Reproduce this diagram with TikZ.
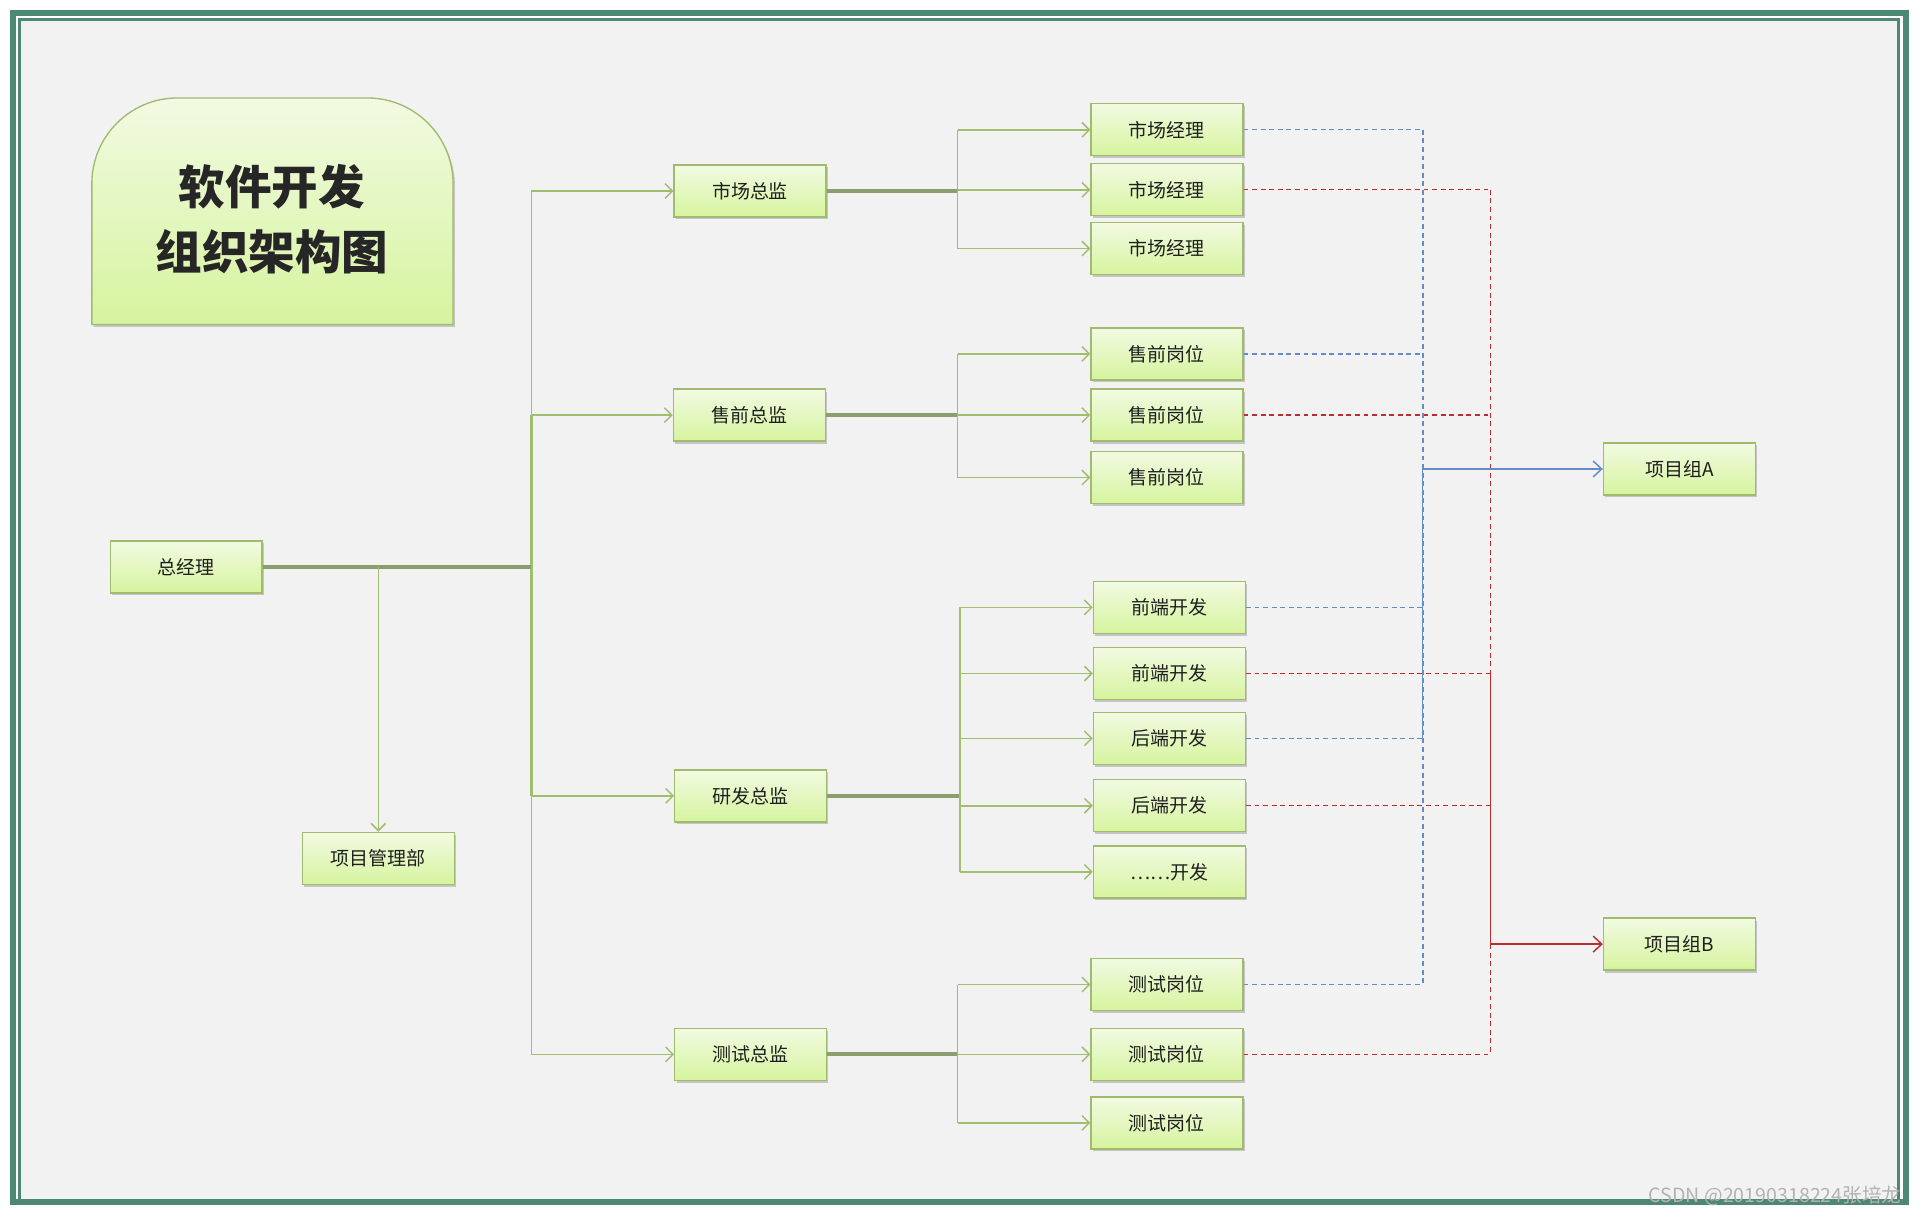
\documentclass[tikz,border=0pt]{standalone}
\usepackage{fontspec}
\setmainfont{Noto Sans CJK SC}
\usetikzlibrary{arrows.meta,shadows}
\definecolor{frameC}{RGB}{76,136,116}
\definecolor{bgC}{RGB}{242,242,242}
\definecolor{boxline}{RGB}{160,186,110}
\definecolor{boxtop}{RGB}{242,250,226}
\definecolor{boxbot}{RGB}{214,244,158}
\definecolor{lineg}{RGB}{160,190,110}
\definecolor{thickg}{RGB}{138,158,110}
\definecolor{blueC}{RGB}{100,140,200}
\definecolor{redC}{RGB}{190,45,45}
\tikzset{
  box/.style={draw=boxline, line width=1.1pt, top color=boxtop, bottom color=boxbot,
    minimum width=124pt, minimum height=42.5pt, inner sep=0pt,
    font=\fontsize{15.5}{18}\selectfont, text=black!88,
    drop shadow={shadow xshift=1.5pt, shadow yshift=-2pt, opacity=0.35, fill=black!55}},
  garrow/.style={draw=lineg, line width=1.3pt, -{Straight Barb[length=6pt,width=12pt,line width=1.2pt]}},
  gline/.style={draw=lineg, line width=1.3pt},
  gthick/.style={draw=thickg, line width=3.5pt},
  bdash/.style={draw=blueC, line width=1.1pt, dash pattern=on 4pt off 3pt},
  rdash/.style={draw=redC, line width=1.1pt, dash pattern=on 4pt off 3pt},
  barrow/.style={draw=blueC, line width=1.3pt, -{Straight Barb[length=7pt,width=13pt,line width=1.2pt]}},
  rarrow/.style={draw=redC, line width=1.3pt, -{Straight Barb[length=7pt,width=13pt,line width=1.2pt]}},
}
\begin{document}
\begin{tikzpicture}[x=1pt,y=-1pt]
% canvas and frame
\fill[white] (0,0) rectangle (1568,991.4);
\useasboundingbox (0,0) rectangle (1568,991.4);
\fill[bgC] (16,16) rectangle (1550.5,981);
\draw[frameC, line width=4.5pt] (10.6,10.6) rectangle (1556.5,981.5);
\draw[frameC, line width=2pt] (16,16) rectangle (1550.5,981);

% title
\path[draw=boxline, line width=1.1pt, top color=boxtop, bottom color=boxbot,
      drop shadow={shadow xshift=1.5pt, shadow yshift=-2pt, opacity=0.35, fill=black!55}]
  (75,265) -- (75,150) arc[start angle=180, end angle=270, radius=70]
  -- (300,80) arc[start angle=270, end angle=360, radius=70] -- (370,265) -- cycle;
\node[align=center, font=\fontsize{38}{53}\selectfont\bfseries, text=black!85] (title) at (222,179) {软件开发\\组织架构图};

% nodes
\node[box] (gm) at (152,463) {总经理};
\node[box] (pm) at (309,701) {项目管理部};
\node[box] (d1) at (612.5,156) {市场总监};
\node[box] (d2) at (612,339) {售前总监};
\node[box] (d3) at (613,650) {研发总监};
\node[box] (d4) at (613,861) {测试总监};
\node[box] (m1) at (953,106) {市场经理};
\node[box] (m2) at (953,155) {市场经理};
\node[box] (m3) at (953,203) {市场经理};
\node[box] (s1) at (953,289) {售前岗位};
\node[box] (s2) at (953,339) {售前岗位};
\node[box] (s3) at (953,390) {售前岗位};
\node[box] (r1) at (955,496) {前端开发};
\node[box] (r2) at (955,550) {前端开发};
\node[box] (r3) at (955,603) {后端开发};
\node[box] (r4) at (955,658) {后端开发};
\node[box] (r5) at (955,712) {……开发};
\node[box] (t1) at (953,804) {测试岗位};
\node[box] (t2) at (953,861) {测试岗位};
\node[box] (t3) at (953,917) {测试岗位};
\node[box] (pa) at (1371.5,383) {项目组A};
\node[box] (pb) at (1371.5,771) {项目组B};

% trunk
\coordinate (ttop) at (434,156);
\coordinate (tbot) at (434,861);
\coordinate (j) at (434,463);
\coordinate (pj) at (309,463);
\draw[gline] (ttop) -- (tbot);
\draw[draw=lineg, line width=2.6pt] (d2.west -| j) -- (d3.west -| j);
\draw[gthick] (gm.east) -- (j);
\draw[garrow] (pj) -- (pm.north);
\draw[garrow] (d1.west -| j) -- (d1.west);
\draw[garrow] (d2.west -| j) -- (d2.west);
\draw[garrow] (d3.west -| j) -- (d3.west);
\draw[garrow] (d4.west -| j) -- (d4.west);

% branches
\coordinate (b1) at (782,156);
\coordinate (b2) at (782,339);
\coordinate (b3) at (784,650);
\coordinate (b4) at (782,861);
\draw[gthick] (d1.east) -- (b1);
\draw[gthick] (d2.east) -- (b2);
\draw[gthick] (d3.east) -- (b3);
\draw[gthick] (d4.east) -- (b4);
\draw[gline] (m1.west -| b1) -- (m3.west -| b1);
\draw[gline] (s1.west -| b2) -- (s3.west -| b2);
\draw[gline] (r1.west -| b3) -- (r5.west -| b3);
\draw[gline] (t1.west -| b4) -- (t3.west -| b4);
\foreach \n in {m1,m2,m3} \draw[garrow] (\n.west -| b1) -- (\n.west);
\foreach \n in {s1,s2,s3} \draw[garrow] (\n.west -| b2) -- (\n.west);
\foreach \n in {r1,r2,r3,r4,r5} \draw[garrow] (\n.west -| b3) -- (\n.west);
\foreach \n in {t1,t2,t3} \draw[garrow] (\n.west -| b4) -- (\n.west);

% project group links
\coordinate (bx) at (1162,106);
\coordinate (rx) at (1217,155);
\foreach \n in {m1,s1,r1,r3,t1} \draw[bdash] (\n.east) -- (\n.east -| bx);
\draw[bdash] (m1.east -| bx) -- (t1.east -| bx);
\foreach \n in {m2,s2,r2,r4,t2} \draw[rdash] (\n.east) -- (\n.east -| rx);
\draw[rdash] (m2.east -| rx) -- (t2.east -| rx);
\draw[draw=blueC, line width=1pt] (pa.west -| bx) -- (r3.east -| bx);
\draw[draw=redC, line width=1pt] (r2.east -| rx) -- (pb.west -| rx);
\draw[barrow] (pa.west -| bx) -- (pa.west);
\draw[rarrow] (pb.west -| rx) -- (pb.west);

% watermark
\node[anchor=base east, inner sep=0pt, text=black!30, font=\fontsize{16}{16}\selectfont] (wm) at (1553,982) {CSDN @20190318224张培龙};
\end{tikzpicture}
\end{document}
